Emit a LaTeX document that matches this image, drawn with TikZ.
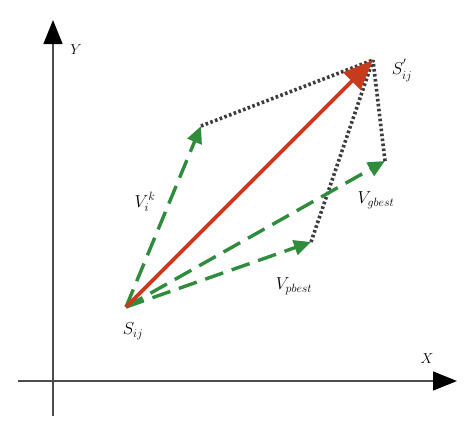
\documentclass[tikz,border=0pt]{standalone}
\usetikzlibrary{positioning}
\usetikzlibrary{arrows.meta}
\definecolor{vecgreen}{RGB}{46,140,60}
\definecolor{vecred}{RGB}{200,58,28}
\definecolor{dotgray}{RGB}{60,60,62}
\begin{document}
\begin{tikzpicture}[x=1pt,y=-1pt]
\tikzset{
  axis/.style={draw=black!70,line width=1.3pt,-{Triangle[length=24pt,width=19pt,color=black]}},
  vec/.style={draw=vecgreen,line width=3.4pt,dash pattern=on 19pt off 9pt,-{Triangle[length=17pt,width=15pt]}},
  best/.style={draw=vecred,line width=3.6pt,-{Triangle[length=30pt,width=24pt]}},
  dotline/.style={draw=dotgray,line width=3.6pt,dash pattern=on 2.6pt off 2.4pt},
  label/.style={font=\LARGE,inner sep=1pt},
  axlabel/.style={font=\Large,inner sep=1pt},
}
\useasboundingbox (0,0) rectangle (474,434);
% axes
\coordinate (yo) at (53,416);
\coordinate (ytip) at (53,20);
\coordinate (xo) at (18,381);
\coordinate (xtip) at (457,381);
\draw[axis] (yo) -- (ytip);
\draw[axis] (xo) -- (xtip);
\node[axlabel] (ylab) at (76,50) {$Y$};
\node[axlabel] (xlab) at (427,359) {$X$};
%
\coordinate (sij) at (126,307);
\coordinate (sijp) at (373,60);
\coordinate (vk) at (201,126);
\coordinate (vp) at (311,242);
\coordinate (vg) at (385,161);
%
\draw[dotline] (vk) -- (sijp);
\draw[dotline] (vp) -- (sijp);
\draw[dotline] (vg) -- (sijp);
%
\draw[vec] (sij) -- (vk);
\draw[vec] (sij) -- (vp);
\draw[vec] (sij) -- (vg);
\draw[best] (sij) -- (sijp);
%
\node[label] (lsij) at (133,331) {$S_{ij}$};
\node[label] (lsijp) at (402,70) {$S_{ij}^{'}$};
\node[label] (lvk) at (145,202) {$V_i^k$};
\node[label] (lvp) at (294,286) {$V_{pbest}$};
\node[label] (lvg) at (376,200) {$V_{gbest}$};
\end{tikzpicture}
\end{document}
